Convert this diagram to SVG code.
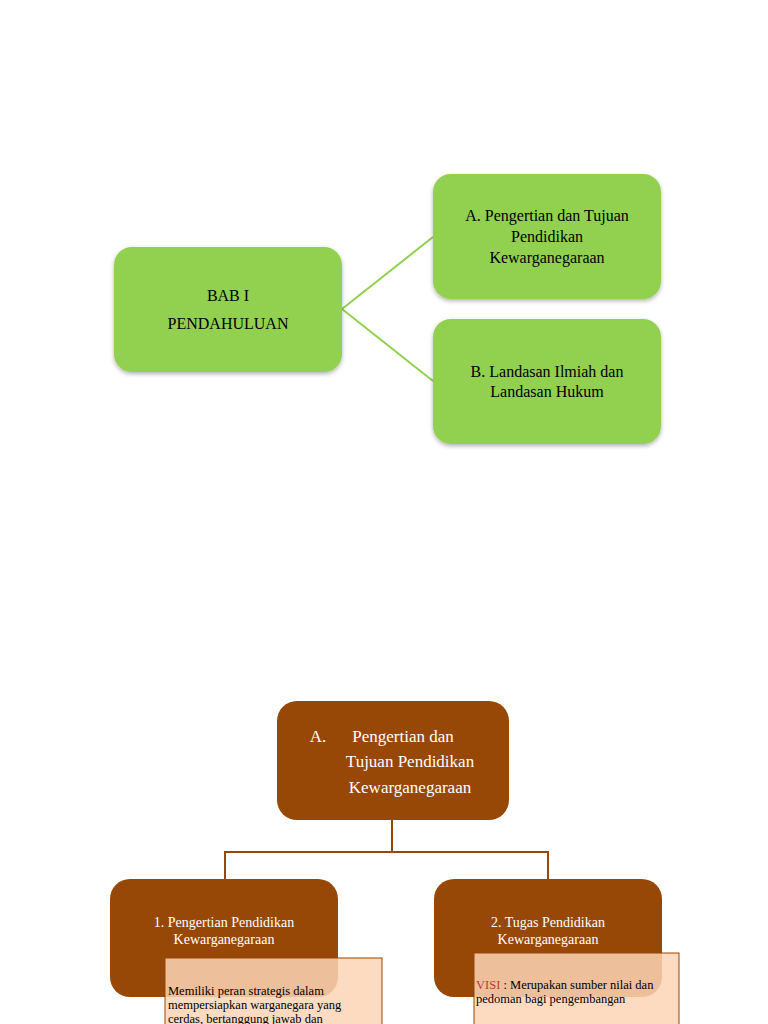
<svg xmlns="http://www.w3.org/2000/svg" width="768" height="1024" viewBox="0 0 768 1024">
<defs>
<filter id="sh" x="-10%" y="-10%" width="120%" height="130%"><feDropShadow dx="0" dy="2" stdDeviation="2" flood-color="#000" flood-opacity="0.3"/></filter>
</defs>
<style>
.g{fill:#92d050;filter:url(#sh)}
.b{fill:#974706}
.t{font-family:"Liberation Serif",serif;font-size:16px;fill:#000;text-anchor:middle}
.w{font-family:"Liberation Serif",serif;fill:#fff;text-anchor:middle}
.s{font-family:"Liberation Serif",serif;font-size:12.5px;fill:#000}
.p{fill:#fbd5b5;fill-opacity:0.85;stroke:#974706;stroke-width:1}
</style>
<rect width="768" height="1024" fill="#fff"/>
<g id="connectors">
<path d="M342 309 L433 237 M342 309 L433 381" stroke="#92d050" stroke-width="2" fill="none"/>
<path d="M392 820 V852 M225 879 V852 H548 V879" stroke="#974706" stroke-width="2" fill="none"/>
</g>
<g id="bab1"><rect class="g" x="114" y="247" width="228" height="125" rx="18"/>
<text class="t" x="228" y="301">BAB I</text><text class="t" x="228" y="329">PENDAHULUAN</text></g>
<g id="nodeA"><rect class="g" x="433" y="174" width="228" height="125" rx="18"/>
<text class="t" x="547" y="221">A. Pengertian dan Tujuan</text><text class="t" x="547" y="242">Pendidikan</text><text class="t" x="547" y="263">Kewarganegaraan</text></g>
<g id="nodeB"><rect class="g" x="433" y="319" width="228" height="125" rx="18"/>
<text class="t" x="547" y="377">B. Landasan Ilmiah dan</text><text class="t" x="547" y="397">Landasan Hukum</text></g>
<g id="top2"><rect class="b" x="277" y="701" width="232" height="119" rx="20"/>
<text class="w" font-size="17" x="318" y="742" text-anchor="start">A.</text>
<text class="w" font-size="17" x="403" y="742">Pengertian dan</text>
<text class="w" font-size="17" x="410" y="767">Tujuan Pendidikan</text>
<text class="w" font-size="17" x="410" y="793">Kewarganegaraan</text></g>
<g id="n1"><rect class="b" x="110" y="879" width="228" height="118" rx="20"/>
<text class="w" font-size="14" x="224" y="927">1. Pengertian Pendidikan</text><text class="w" font-size="14" x="224" y="944">Kewarganegaraan</text></g>
<g id="n2"><rect class="b" x="434" y="879" width="228" height="118" rx="20"/>
<text class="w" font-size="14" x="548" y="927">2. Tugas Pendidikan</text><text class="w" font-size="14" x="548" y="944">Kewarganegaraan</text></g>
<g id="d1"><rect class="p" x="165" y="958" width="217" height="80"/>
<text class="s" x="168" y="995">Memiliki peran strategis dalam</text>
<text class="s" x="168" y="1009">mempersiapkan warganegara yang</text>
<text class="s" x="168" y="1023">cerdas, bertanggung jawab dan</text></g>
<g id="d2"><rect class="p" x="474" y="953" width="205" height="85"/>
<text class="s" x="476" y="989"><tspan fill="#c0392b">VISI</tspan> : Merupakan sumber nilai dan</text>
<text class="s" x="476" y="1003">pedoman bagi pengembangan</text></g>
</svg>
